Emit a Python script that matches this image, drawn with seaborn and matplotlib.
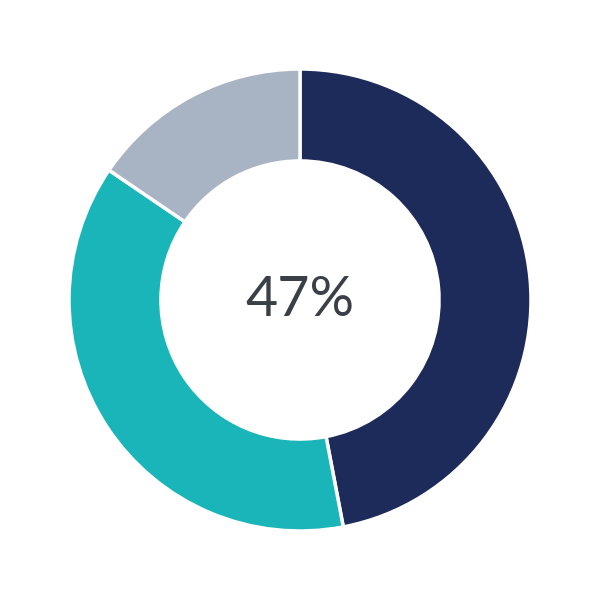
import matplotlib
matplotlib.use("Agg")
import matplotlib.pyplot as plt
import seaborn as sns

# Data
labels = ["Navy", "Teal", "Gray"]
shares = [47, 37.5, 15.5]
colors = ["#1c2b5a", "#1ab5b8", "#a8b3c4"]
center_text = "47%"

sns.set_theme(style="white")
plt.rcParams["font.family"] = ["Lato", "DejaVu Sans"]

fig = plt.figure(figsize=(6, 6), dpi=100)
ax = fig.add_axes([0, 0, 1, 1])

ax.pie(shares, colors=colors, startangle=90, counterclock=False,
       radius=1.0,
       wedgeprops=dict(width=0.398, edgecolor="white", linewidth=2.5))

ax.text(0, 0, center_text, ha="center", va="center",
        fontsize=40, color="#3a4048", fontweight="normal")

lim = 300 / 231
ax.set_xlim(-lim, lim)
ax.set_ylim(-lim, lim)
ax.set_aspect("equal")
ax.axis("off")

fig.savefig("out.png", dpi=100, facecolor="white")
